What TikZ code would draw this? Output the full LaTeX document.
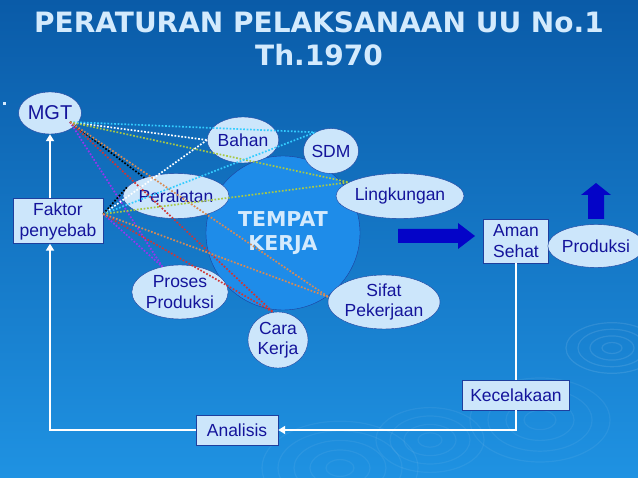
\documentclass[tikz,border=0pt]{standalone}
\usepackage{fontspec}
\setmainfont{Liberation Sans}
\newfontfamily\heavyfont{DejaVu Sans}
\usetikzlibrary{shapes.geometric,arrows.meta}

\definecolor{bgtop}{HTML}{0A5BA8}
\definecolor{bgbot}{HTML}{1F92E2}
\definecolor{paleblue}{HTML}{CCE6FB}
\definecolor{inkblue}{HTML}{14149B}
\definecolor{rimblue}{HTML}{1E3F9E}
\definecolor{placeblue}{HTML}{1E8CE9}
\definecolor{headblue}{HTML}{D3EAFD}
\definecolor{arrowblue}{HTML}{0404C8}
\definecolor{lcyan}{HTML}{33CCFF}
\definecolor{lgreen}{HTML}{A8C845}
\definecolor{lpurple}{HTML}{9933EE}
\definecolor{lred}{HTML}{D03535}
\definecolor{lorange}{HTML}{D98A52}

\begin{document}
\begin{tikzpicture}[
    x = 1pt, y = -1pt,
    factor/.style = {ellipse, draw = rimblue, fill = paleblue, text = inkblue,
                     inner sep = 0pt, align = center,
                     font = \fontsize{17.5}{20.5}\selectfont},
    boxed/.style  = {rectangle, draw = rimblue, fill = paleblue, text = inkblue,
                     inner sep = 1pt, align = center,
                     font = \fontsize{17.5}{21}\selectfont},
    flow/.style   = {white, line width = 2.6pt},
    flowtip/.style = {flow, -{Triangle[length = 7pt, width = 8pt]}},
    link/.style   = {line width = 1.7pt, dash pattern = on 1.7pt off 1.7pt}
  ]
  % background
  \useasboundingbox (0, 0) rectangle (638, 478);
  \shade[top color = bgtop, bottom color = bgbot] (0, 0) rectangle (638, 478);
  \foreach \r in {10, 22, 34, 46}
    \draw[white, opacity = 0.1, line width = 1.2pt] (612, 348) ellipse ({\r} and {0.55*\r});
  \foreach \r in {14, 30, 46, 62, 78}
    \draw[white, opacity = 0.06, line width = 1.2pt] (340, 468) ellipse ({\r} and {0.6*\r});
  \foreach \r in {12, 26, 40, 54}
    \draw[white, opacity = 0.06, line width = 1.2pt] (430, 440) ellipse ({\r} and {0.6*\r});
  \foreach \r in {16, 34, 52, 70}
    \draw[white, opacity = 0.06, line width = 1.2pt] (540, 420) ellipse ({\r} and {0.6*\r});
  % title
  \node[text = headblue, align = center, font = \heavyfont\bfseries\fontsize{28}{33}\selectfont]
    (title) at (319, 39) {PERATURAN PELAKSANAAN UU No.1\\Th.1970};
  \fill[headblue] (3, 102) rectangle (6, 105);
  % nodes
  \node[circle, draw = rimblue, fill = placeblue, minimum size = 154pt, text = headblue,
        align = center, font = \heavyfont\bfseries\fontsize{20.5}{24}\selectfont]
        (tempat) at (283, 233) {TEMPAT\\KERJA};
  \node[factor, minimum width = 54pt, minimum height = 42pt, font = \fontsize{20}{24}\selectfont]
        (mgt) at (50, 113) {MGT};
  \node[boxed, minimum width = 90pt, minimum height = 45pt] (faktor) at (58, 221) {Faktor\\penyebab};
  \node[factor, minimum width = 60pt, minimum height = 46pt] (bahan)      at (243, 140) {Bahan};
  \node[factor, minimum width = 55pt, minimum height = 45pt] (sdm)        at (331, 151) {SDM};
  \node[factor, minimum width = 85pt, minimum height = 45pt] (peralatan)  at (176, 196) {Peralatan};
  \node[factor, minimum width = 97pt, minimum height = 45pt] (lingkungan) at (400, 196) {Lingkungan};
  \node[factor, minimum width = 95pt, minimum height = 54pt] (proses)     at (180, 292) {Proses\\Produksi};
  \node[factor, minimum width = 112pt, minimum height = 54pt] (sifat)     at (384, 302) {Sifat\\Pekerjaan};
  \node[factor, minimum width = 60pt, minimum height = 56pt] (cara)       at (278, 340) {Cara\\Kerja};
  \node[boxed, minimum width = 65pt, minimum height = 44pt] (aman) at (516, 241) {Aman\\Sehat};
  \node[factor, minimum width = 81pt, minimum height = 43pt] (produksi)   at (596, 246) {Produksi};
  \node[boxed, minimum width = 107pt, minimum height = 30pt] (kecelakaan) at (516, 395) {Kecelakaan};
  \node[boxed, minimum width = 82pt, minimum height = 30pt] (analisis)    at (237, 430) {Analisis};
  \coordinate (mgtout) at (70, 122);
  \coordinate (fakout) at ([yshift = 7pt] faktor.east);
  \coordinate (fakin)  at (faktor.south -| mgt.south);
  \coordinate (fakup)  at (faktor.north -| mgt.south);
  % big arrows
  \fill[arrowblue] (398, 229) -- (458, 229) -- (458, 223) -- (475, 236)
                   -- (458, 249) -- (458, 243) -- (398, 243) -- cycle;
  \fill[arrowblue] (588, 219) -- (588, 195) -- (581, 195) -- (596, 183)
                   -- (611, 195) -- (604, 195) -- (604, 219) -- cycle;
  % the loop back
  \draw[flowtip] (fakup) -- (mgt.south);
  \draw[flow] (aman.south) -- (kecelakaan.north);
  \draw[flowtip] (kecelakaan.south) |- (analisis.east);
  \draw[flowtip] (analisis.west) -| (fakin);
  % links from MGT
  \draw[link, white]   (mgtout) -- (bahan.west);
  \draw[link, lcyan]   (mgtout) -- (sdm.130);
  \draw[link, lgreen]  (mgtout) -- (lingkungan.165);
  \draw[link, black]   (mgtout) -- (peralatan.150);
  \draw[link, lpurple] (mgtout) -- (proses.125);
  \draw[link, lred]    (mgtout) -- (cara.100);
  \draw[link, lorange] (mgtout) -- (sifat.175);
  % links from Faktor penyebab
  \draw[link, white]   (fakout) -- (bahan.west);
  \draw[link, lcyan]   (fakout) -- (sdm.130);
  \draw[link, lgreen]  (fakout) -- (lingkungan.165);
  \draw[link, black]   (fakout) -- (peralatan.170);
  \draw[link, lpurple] (fakout) -- (proses.125);
  \draw[link, lred]    (fakout) -- (cara.100);
  \draw[link, lorange] (fakout) -- (sifat.175);
\end{tikzpicture}
\end{document}
